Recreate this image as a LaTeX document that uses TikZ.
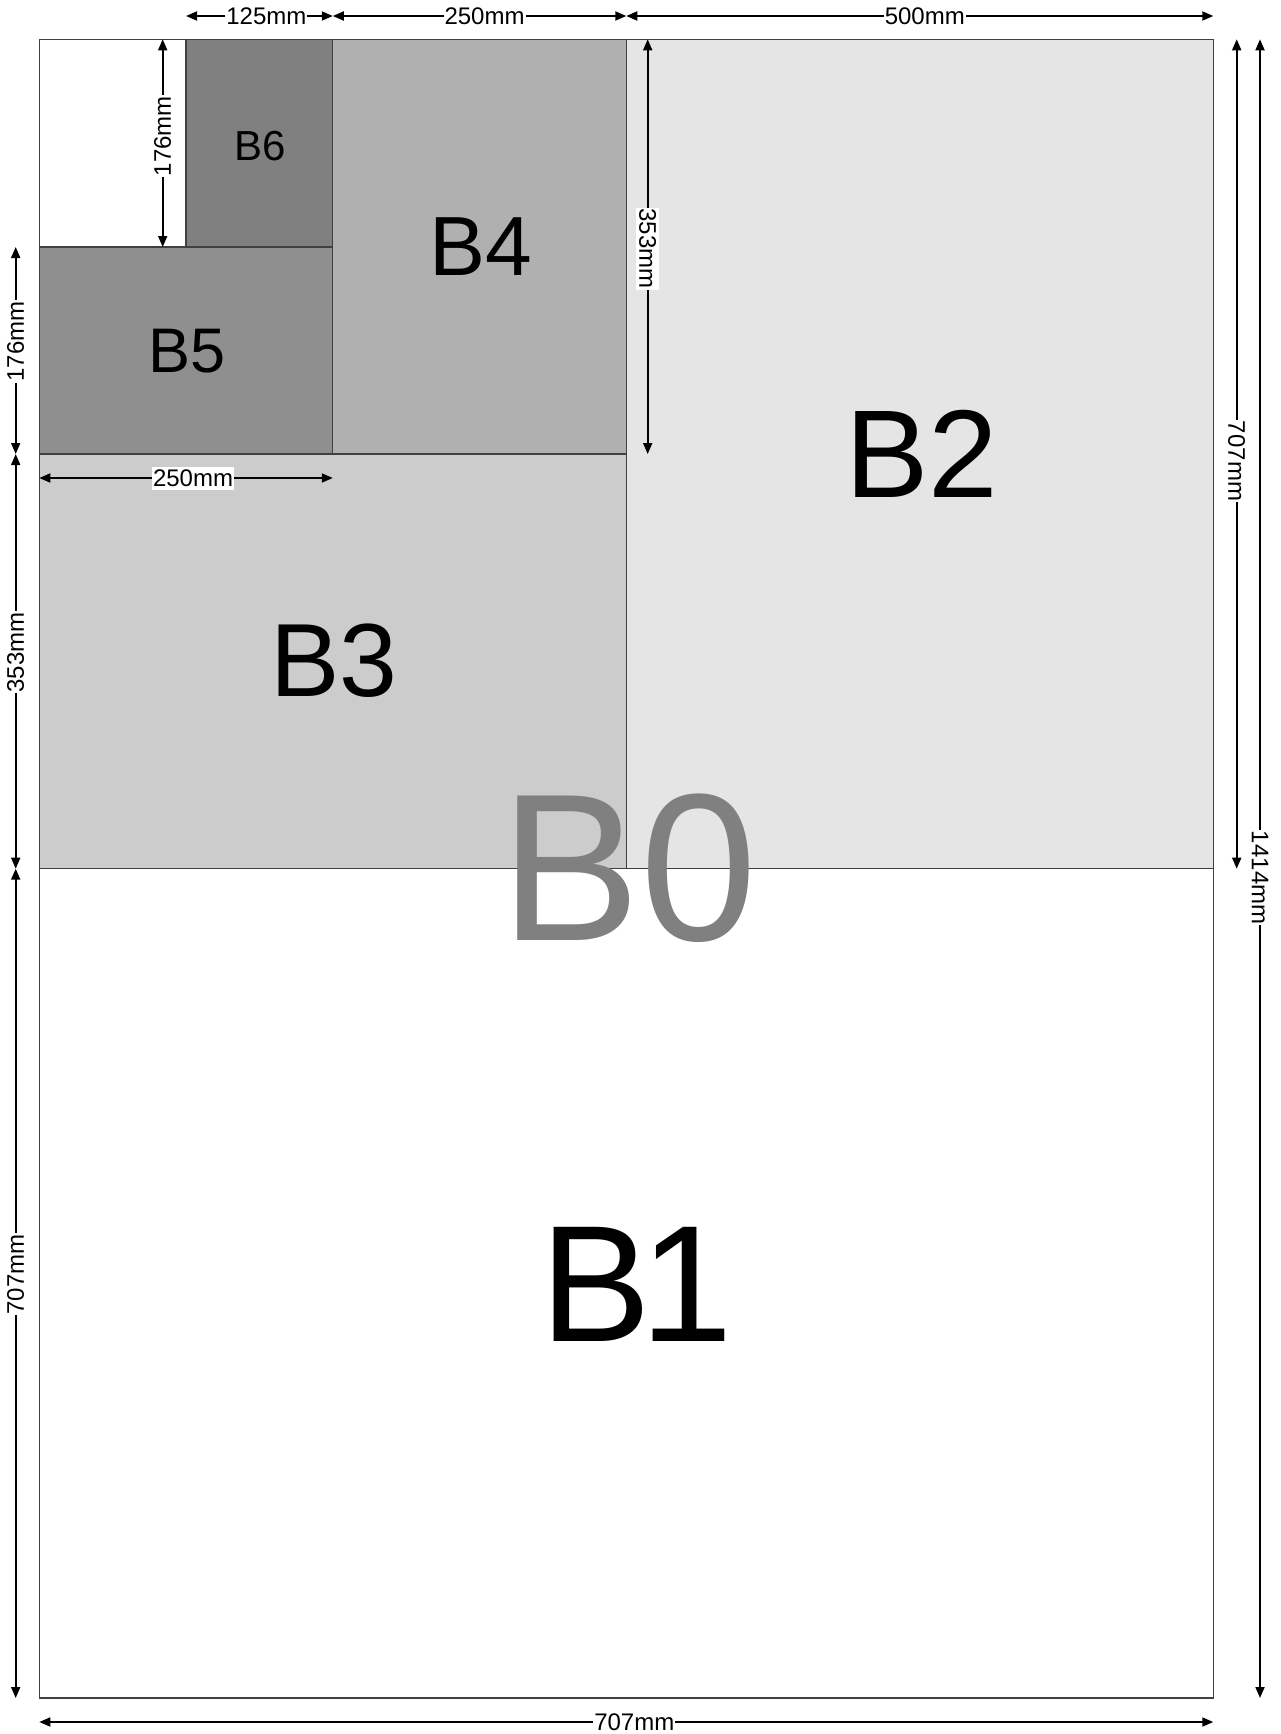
\documentclass[tikz,border=0pt]{standalone}
\usepackage{fontspec}
\setmainfont{Liberation Sans}
\usetikzlibrary{arrows.meta}
\definecolor{paperB2}{gray}{0.90}
\definecolor{paperB3}{gray}{0.80}
\definecolor{paperB4}{gray}{0.69}
\definecolor{paperB5}{gray}{0.56}
\definecolor{paperB6}{gray}{0.50}
\definecolor{paperB0}{gray}{0.50}
\begin{document}
\begin{tikzpicture}[x=1pt, y=-1pt,
    sheet/.style={draw=black!75, line width=1.3pt},
    dimline/.style={line width=1.8pt, >={Triangle[length=11pt,width=9pt]}, <->},
    dimlabel/.style={fill=white, inner xsep=1pt, inner ysep=3pt, font=\fontsize{24}{26}\selectfont},
    sizelabel/.style={inner sep=0pt}]
\useasboundingbox (0,0) rectangle (1280,1734);

% sheets
\draw[sheet, fill=paperB2] (626.3,39.3) rectangle (1213.3,868.7);
\draw[sheet, fill=paperB3] (39.3,454) rectangle (626.3,868.7);
\draw[sheet, fill=paperB4] (332.8,39.3) rectangle (626.3,454);
\draw[sheet, fill=paperB5] (39.3,247) rectangle (332.8,454);
\draw[sheet, fill=paperB6] (186,39.3) rectangle (332.8,247);
\draw[sheet] (39.3,39.3) rectangle (1213.3,1698);

% ends of the measuring lines
\coordinate (t1) at (186,16);
\coordinate (t2) at (332.8,16);
\coordinate (t3) at (626.3,16);
\coordinate (t4) at (1213.3,16);
\coordinate (i1) at (162.7,39.3);
\coordinate (i2) at (162.7,247);
\coordinate (l1) at (15.7,247);
\coordinate (l2) at (15.7,454);
\coordinate (l3) at (15.7,868.7);
\coordinate (l4) at (15.7,1698);
\coordinate (h1) at (39.3,478);
\coordinate (h2) at (332.8,478);
\coordinate (m1) at (647.7,39.3);
\coordinate (m2) at (647.7,454);
\coordinate (r1) at (1236.7,39.3);
\coordinate (r2) at (1236.7,868.7);
\coordinate (s1) at (1260,39.3);
\coordinate (s2) at (1260,1698);
\coordinate (b1) at (39.3,1722);
\coordinate (b2) at (1213.3,1722);

\draw[dimline] (t1) -- (t2) node[dimlabel, midway, xshift=7pt] (wB6) {125mm};
\draw[dimline] (t2) -- (t3) node[dimlabel, midway, xshift=5pt] (wB4) {250mm};
\draw[dimline] (t3) -- (t4) node[dimlabel, midway, xshift=5pt] (wB2) {500mm};
\draw[dimline] (i1) -- (i2) node[dimlabel, midway, yshift=7pt, rotate=90] (hB6) {176mm};
\draw[dimline] (l1) -- (l2) node[dimlabel, midway, yshift=9pt, rotate=90] (hB5) {176mm};
\draw[dimline] (l2) -- (l3) node[dimlabel, midway, yshift=9pt, rotate=90] (hB3) {353mm};
\draw[dimline] (l3) -- (l4) node[dimlabel, midway, yshift=9pt, rotate=90] (hB1) {707mm};
\draw[dimline] (h1) -- (h2) node[dimlabel, midway, xshift=7pt] (wB5) {250mm};
\draw[dimline] (m1) -- (m2) node[dimlabel, midway, yshift=-2pt, rotate=-90] (hB4) {353mm};
\draw[dimline] (r1) -- (r2) node[dimlabel, midway, yshift=-7pt, rotate=-90] (hB2) {707mm};
\draw[dimline] (s1) -- (s2) node[dimlabel, midway, yshift=-9pt, rotate=-90] (hB0) {1414mm};
\draw[dimline] (b1) -- (b2) node[dimlabel, midway, xshift=8pt] (wB1) {707mm};

% sheet names
\node[sizelabel, font=\fontsize{42}{42}\selectfont] (nB6) at (260,146) {B6};
\node[sizelabel, font=\fontsize{63}{63}\selectfont] (nB5) at (187,351) {B5};
\node[sizelabel, font=\fontsize{84}{84}\selectfont] (nB4) at (481,247) {B4};
\node[sizelabel, font=\fontsize{104}{104}\selectfont] (nB3) at (334,661) {B3};
\node[sizelabel, font=\fontsize{125}{125}\selectfont] (nB2) at (922,454) {B2};
\node[sizelabel, font=\fontsize{166}{166}\selectfont] (nB1) at (637,1284) {B\kern-11pt 1};
\node[sizelabel, text=paperB0, font=\fontsize{210}{210}\selectfont] (nB0) at (629,868) {B0};
\end{tikzpicture}
\end{document}
